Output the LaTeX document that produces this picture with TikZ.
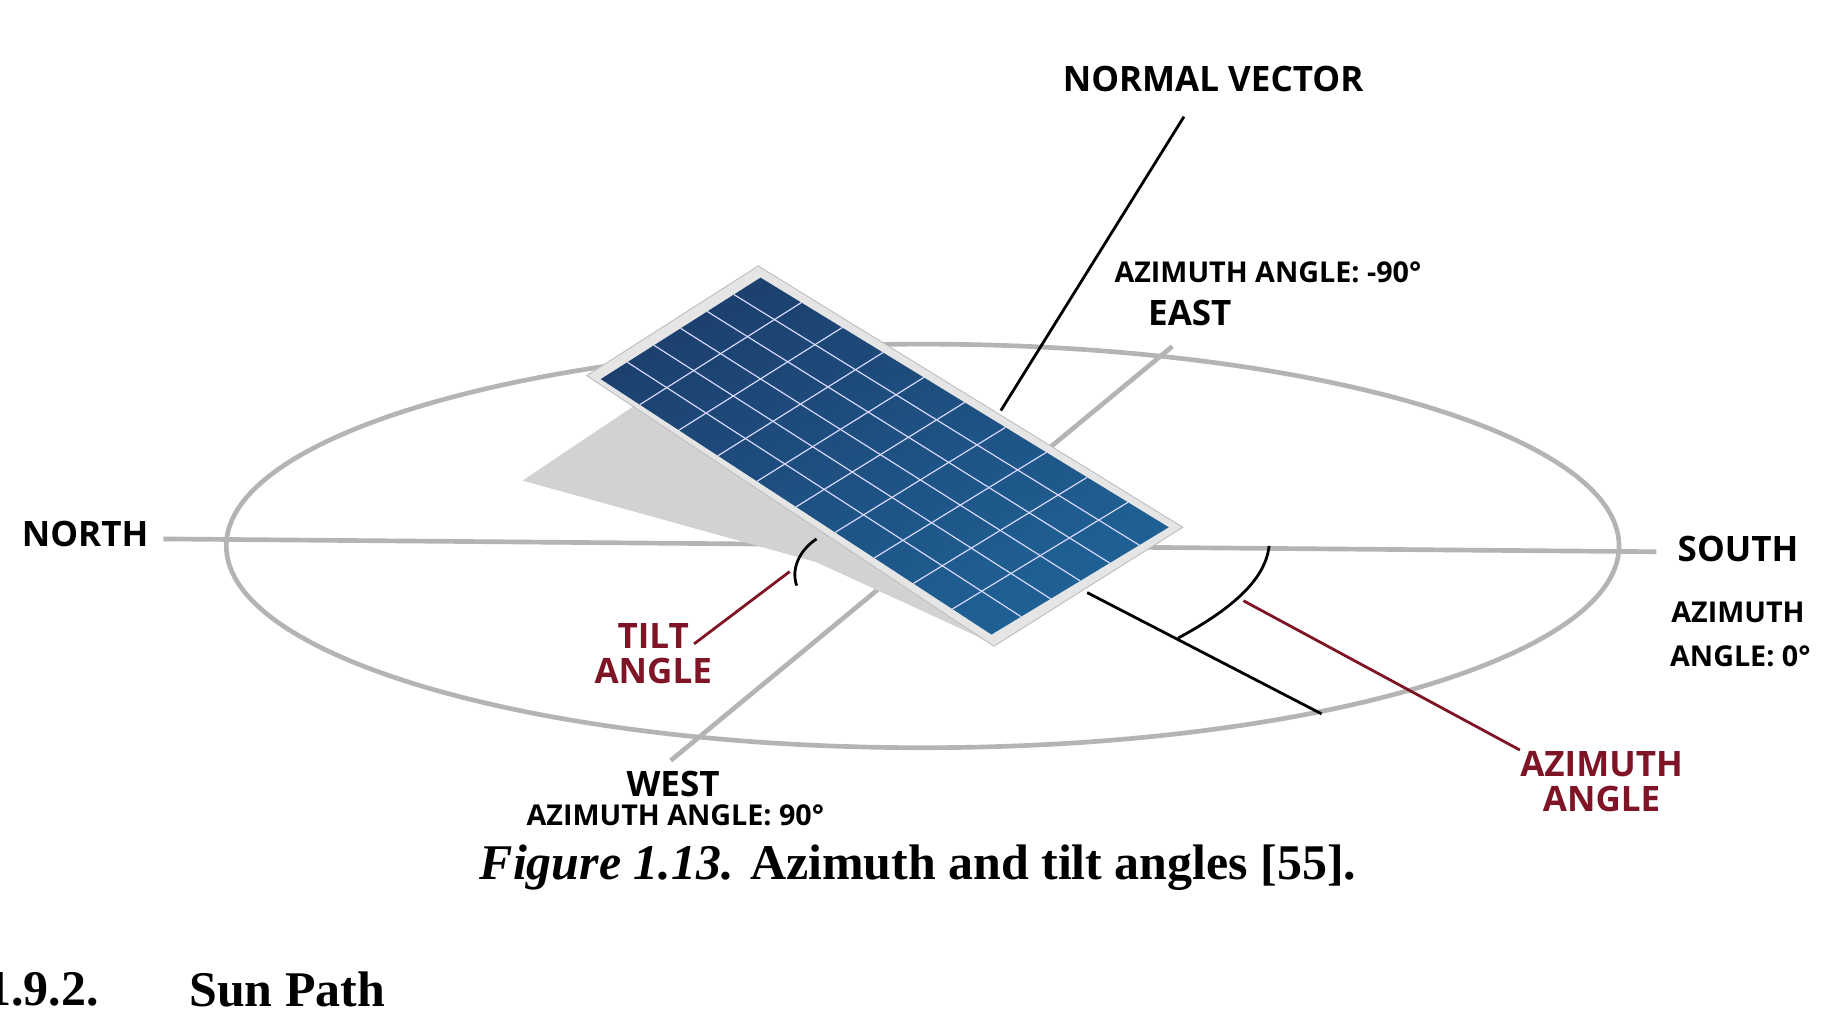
\documentclass[tikz,border=0pt]{standalone}
\usepackage{fontspec}
\setmainfont{Liberation Serif}
\newfontfamily\lab{Open Sans}
\usetikzlibrary{calc}
\definecolor{gline}{HTML}{B4B4B4}
\definecolor{dred}{HTML}{7E1426}
\definecolor{pblue}{HTML}{23508A}
\tikzset{
 gl/.style={draw=gline,line width=2pt},
 bl/.style={draw=black,line width=1.2pt},
 rl/.style={draw=dred,line width=1.2pt},
 lb/.style={font=\lab\bfseries\fontsize{15}{17}\selectfont,inner sep=0pt},
 ls/.style={font=\lab\bfseries\fontsize{12.3}{14}\selectfont,inner sep=0pt},
 lr/.style={font=\lab\bfseries\fontsize{15}{17}\selectfont,text=dred,inner sep=0pt,align=center}
}
\begin{document}
\begin{tikzpicture}[x=0.5pt,y=-0.5pt]
\useasboundingbox[fill=white] (0,0) rectangle (1568,879);
% ellipse and axes
\draw[gl] (791,468) ellipse [x radius=597,y radius=173];
\coordinate (N) at (140,462); \coordinate (S) at (1420,473);
\coordinate (E) at (1005,297); \coordinate (W) at (575,652);
\draw[gl] (N) -- (S);
\draw[gl] (E) -- (W);
% shadow
\fill[gray!35] (448,412) -- (548,345) -- (852,552) -- (700,482) -- cycle;
% panel
\coordinate (A) at (650,228); \coordinate (B) at (1014,452);
\coordinate (C) at (852,554); \coordinate (D) at (503,322);
\fill[gray!20,draw=gray!50] (A)--(B)--(C)--(D)--cycle;
\coordinate (a) at (652,238); \coordinate (b) at (1002,452);
\coordinate (c) at (850,544); \coordinate (d) at (515,325);
\shade[top color=pblue!80!black,bottom color=pblue!90!cyan,shading angle=30] (a)--(b)--(c)--(d)--cycle;
\foreach \u in {1,...,9}{\draw[white!85!blue,line width=0.5pt] ($(a)!\u/10!(b)$) -- ($(d)!\u/10!(c)$);}
\foreach \v in {1,...,5}{\draw[white!85!blue,line width=0.5pt] ($(a)!\v/6!(d)$) -- ($(b)!\v/6!(c)$);}
% normal vector
\coordinate (nv) at (1015,100); \coordinate (np) at (858,352);
\draw[bl] (nv) -- (np);
% projected normal
\coordinate (p1) at (932,508); \coordinate (p2) at (1133,612);
\draw[bl] (p1) -- (p2);
\draw[bl] (1010,547) .. controls (1060,520) and (1085,495) .. (1088,468);
\draw[bl] (683,502) .. controls (678,488) and (685,472) .. (700,462);
% labels
\node[lb] (tnv) at (1040,68) {NORMAL VECTOR};
\node[ls] (taz1) at (1087,233) {AZIMUTH ANGLE: -90°};
\node[lb] (teast) at (1020,268) {EAST};
\node[lb] (tnorth) at (73,458) {NORTH};
\node[lb] (tsouth) at (1490,471) {SOUTH};
\node[ls] (taz0a) at (1490,525) {AZIMUTH};
\node[ls] (taz0b) at (1492,563) {ANGLE: 0°};
\node[lr] (ttilt) at (560,560) {TILT\\[-2pt]ANGLE};
\node[lb] (twest) at (577,672) {WEST};
\node[ls] (taz90) at (579,699) {AZIMUTH ANGLE: 90°};
\node[lr] (tazr) at (1373,670) {AZIMUTH\\[-2pt]ANGLE};
\draw[rl] (677,490) -- (595,552);
\draw[rl] (1066,515) -- (1303,643);
% caption
\node[font=\fontsize{21.4}{25}\selectfont\bfseries,inner sep=0pt] (cap) at (787,744) {\textit{Figure 1.13.} Azimuth and tilt angles [55].};
\node[font=\fontsize{21.4}{25}\selectfont\bfseries,inner sep=0pt,anchor=west] (sec) at (-12,848) {1.9.2.};
\node[font=\fontsize{21.4}{25}\selectfont\bfseries,inner sep=0pt,anchor=west] (sp) at (162,848) {Sun Path};
\end{tikzpicture}
\end{document}
